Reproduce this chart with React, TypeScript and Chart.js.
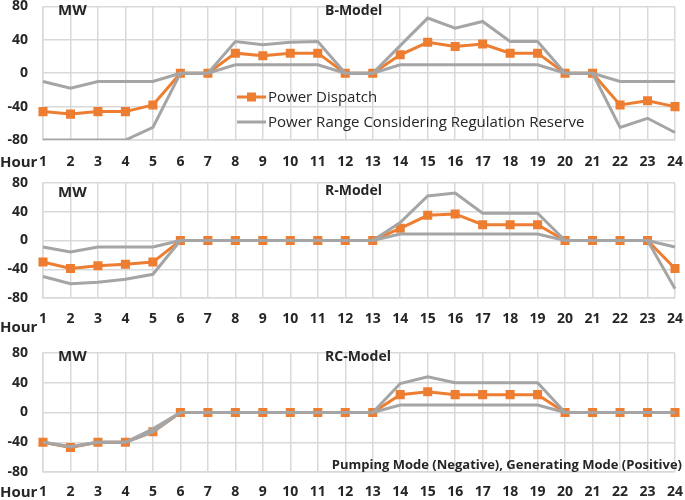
import { useEffect, useRef } from "react";
import { Chart, ChartConfiguration, registerables } from "chart.js";

Chart.register(...registerables);

const hours = ["1", "2", "3", "4", "5", "6", "7", "8", "9", "10", "11", "12",
  "13", "14", "15", "16", "17", "18", "19", "20", "21", "22", "23", "24"];
const yTicks = [-80, -40, 0, 40, 80];

// B-Model
const bDispatch = [-46, -49, -46, -46, -38, 0, 0, 24, 21, 24, 24, 0, 0, 22, 37, 32, 35, 24, 24, 0, 0, -38, -33, -40];
const bUpper = [-10, -18, -10, -10, -10, 0, 0, 38, 34, 37, 38, 0, 0, 33, 66, 54, 62, 38, 38, 0, 0, -10, -10, -10];
const bLower = [-80, -80, -80, -80, -65, 0, 0, 10, 10, 10, 10, 0, 0, 10, 10, 10, 10, 10, 10, 0, 0, -65, -54, -71];

// R-Model
const rDispatch = [-30, -39, -35, -33, -30, 0, 0, 0, 0, 0, 0, 0, 0, 17, 35, 37, 22, 22, 22, 0, 0, 0, 0, -39];
const rUpper = [-9, -16, -9, -9, -9, 0, 0, 0, 0, 0, 0, 0, 0, 25, 62, 66, 38, 38, 38, 0, 0, 0, 0, -9];
const rLower = [-50, -60, -58, -54, -47, 0, 0, 0, 0, 0, 0, 0, 0, 9, 9, 9, 9, 9, 9, 0, 0, 0, 0, -67];

// RC-Model
const rcDispatch = [-40, -47, -40, -40, -26, 0, 0, 0, 0, 0, 0, 0, 0, 24, 28, 24, 24, 24, 24, 0, 0, 0, 0, 0];
const rcUpper = [-40, -46, -40, -40, -22, 0, 0, 0, 0, 0, 0, 0, 0, 39, 48, 40, 40, 40, 40, 0, 0, 0, 0, 0];
const rcLower = [-40, -46, -40, -40, -26, 0, 0, 0, 0, 0, 0, 0, 0, 10, 10, 10, 10, 10, 10, 0, 0, 0, 0, 0];

const ORANGE = "#ED7D31";
const GRAY = "#A5A5A5";
const GRID = "#D9D9D9";
const TEXT = "#262626";
const FONT = '"Open Sans", sans-serif';

const panelText = {
  id: "panelText",
  afterDraw(chart: Chart, _args: any, opts: any) {
    const ctx = chart.ctx;
    const a = chart.chartArea;
    ctx.save();
    ctx.fillStyle = TEXT;
    ctx.textBaseline = "middle";
    ctx.textAlign = "left";
    ctx.font = `bold 15px ${FONT}`;
    ctx.fillText("MW", a.left + 15, opts.mwY);
    ctx.fillText("Hour", 0, opts.hourY);
    ctx.font = `bold 14px ${FONT}`;
    ctx.fillText(opts.title, 325, opts.titleY);

    if (opts.note) {
      ctx.font = `bold 13px ${FONT}`;
      ctx.textAlign = "right";
      ctx.fillText(opts.note, a.right + 7, opts.noteY);
    }

    if (opts.legend) {
      const seen: string[] = [];
      let y = opts.legend.y;
      ctx.font = `15px ${FONT}`;
      ctx.textAlign = "left";
      chart.data.datasets.forEach((ds: any) => {
        if (!ds.label || seen.includes(ds.label)) return;
        seen.push(ds.label);
        const x = opts.legend.x;
        ctx.strokeStyle = ds.borderColor;
        ctx.lineWidth = ds.borderWidth;
        ctx.beginPath();
        ctx.moveTo(x, y);
        ctx.lineTo(x + 29, y);
        ctx.stroke();
        if (ds.pointRadius > 0) {
          ctx.fillStyle = ds.pointBackgroundColor;
          ctx.fillRect(x + 10, y - 4.5, 9, 9);
        }
        ctx.fillStyle = TEXT;
        ctx.fillText(ds.label, x + 31, y + 1);
        y += opts.legend.gap;
      });
    }
    ctx.restore();
  },
};

interface PanelProps {
  top: number;
  height: number;
  padTop: number;
  axisHeight: number;
  labelPad: number;
  dispatch: number[];
  upper: number[];
  lower: number[];
  text: any;
}

function Panel({ top, height, padTop, axisHeight, labelPad, dispatch, upper, lower, text }: PanelProps) {
  const canvasRef = useRef<HTMLCanvasElement>(null);
  const chartRef = useRef<Chart | null>(null);

  useEffect(() => {
    if (!canvasRef.current) return;
    if (chartRef.current) chartRef.current.destroy();

    const range = "Power Range Considering Regulation Reserve";
    const config: ChartConfiguration = {
      type: "line",
      data: {
        labels: hours,
        datasets: [
          {
            label: "Power Dispatch",
            data: dispatch,
            borderColor: ORANGE,
            backgroundColor: ORANGE,
            pointBackgroundColor: ORANGE,
            pointBorderColor: ORANGE,
            borderWidth: 3,
            pointStyle: "rect",
            pointRadius: 6.4,
            pointBorderWidth: 0,
            order: 1,
          } as any,
          {
            label: range,
            data: upper,
            borderColor: GRAY,
            borderWidth: 3,
            pointRadius: 0,
            order: 0,
          },
          {
            label: range,
            data: lower,
            borderColor: GRAY,
            borderWidth: 3,
            pointRadius: 0,
            order: 0,
          },
        ],
      },
      options: {
        responsive: false,
        animation: false,
        layout: { padding: { top: padTop, right: 10, left: 0, bottom: 0 } },
        plugins: {
          legend: { display: false },
          tooltip: { enabled: false },
          panelText: text,
        } as any,
        scales: {
          x: {
            offset: false,
            grid: { color: GRID, lineWidth: 1.5, drawTicks: false },
            border: { color: GRID, width: 1.5 },
            ticks: {
              color: TEXT,
              font: { family: FONT, size: 14, weight: "bold" },
              padding: labelPad,
              maxRotation: 0,
              autoSkip: false,
            },
            afterFit: (scale: any) => {
              scale.height = axisHeight;
              scale.paddingLeft = 0;
              scale.paddingRight = 0;
            },
          },
          y: {
            min: -80,
            max: 80,
            afterBuildTicks: (scale: any) => {
              scale.ticks = yTicks.map((v) => ({ value: v }));
            },
            grid: { color: GRID, lineWidth: 1.5, drawTicks: false },
            border: { color: GRID, width: 1.5 },
            ticks: {
              color: TEXT,
              font: { family: FONT, size: 14, weight: "bold" },
              padding: 15,
            },
            afterFit: (scale: any) => {
              scale.width = 43;
              scale.paddingTop = 0;
              scale.paddingBottom = 0;
            },
          },
        },
      },
      plugins: [panelText],
    };

    chartRef.current = new Chart(canvasRef.current, config);
    return () => {
      if (chartRef.current) {
        chartRef.current.destroy();
        chartRef.current = null;
      }
    };
  }, []);

  return (
    <canvas
      ref={canvasRef}
      width={685}
      height={height}
      style={{ position: "absolute", left: 0, top, width: 685, height }}
    />
  );
}

export default function App() {
  return (
    <div style={{ position: "absolute", left: 0, top: 0, width: 685, height: 500, background: "#fff" }}>
      <Panel
        top={0}
        height={170}
        padTop={5}
        axisHeight={30}
        labelPad={14}
        dispatch={bDispatch}
        upper={bUpper}
        lower={bLower}
        text={{ title: "B-Model", mwY: 11, titleY: 11, hourY: 163, legend: { x: 237, y: 97, gap: 25 } }}
      />
      <Panel
        top={170}
        height={165}
        padTop={13}
        axisHeight={37}
        labelPad={13}
        dispatch={rDispatch}
        upper={rUpper}
        lower={rLower}
        text={{ title: "R-Model", mwY: 23, titleY: 21, hourY: 158 }}
      />
      <Panel
        top={335}
        height={165}
        padTop={18}
        axisHeight={28}
        labelPad={12}
        dispatch={rcDispatch}
        upper={rcUpper}
        lower={rcLower}
        text={{
          title: "RC-Model",
          mwY: 22,
          titleY: 22,
          hourY: 158,
          note: "Pumping Mode (Negative), Generating Mode (Positive)",
          noteY: 130,
        }}
      />
    </div>
  );
}
